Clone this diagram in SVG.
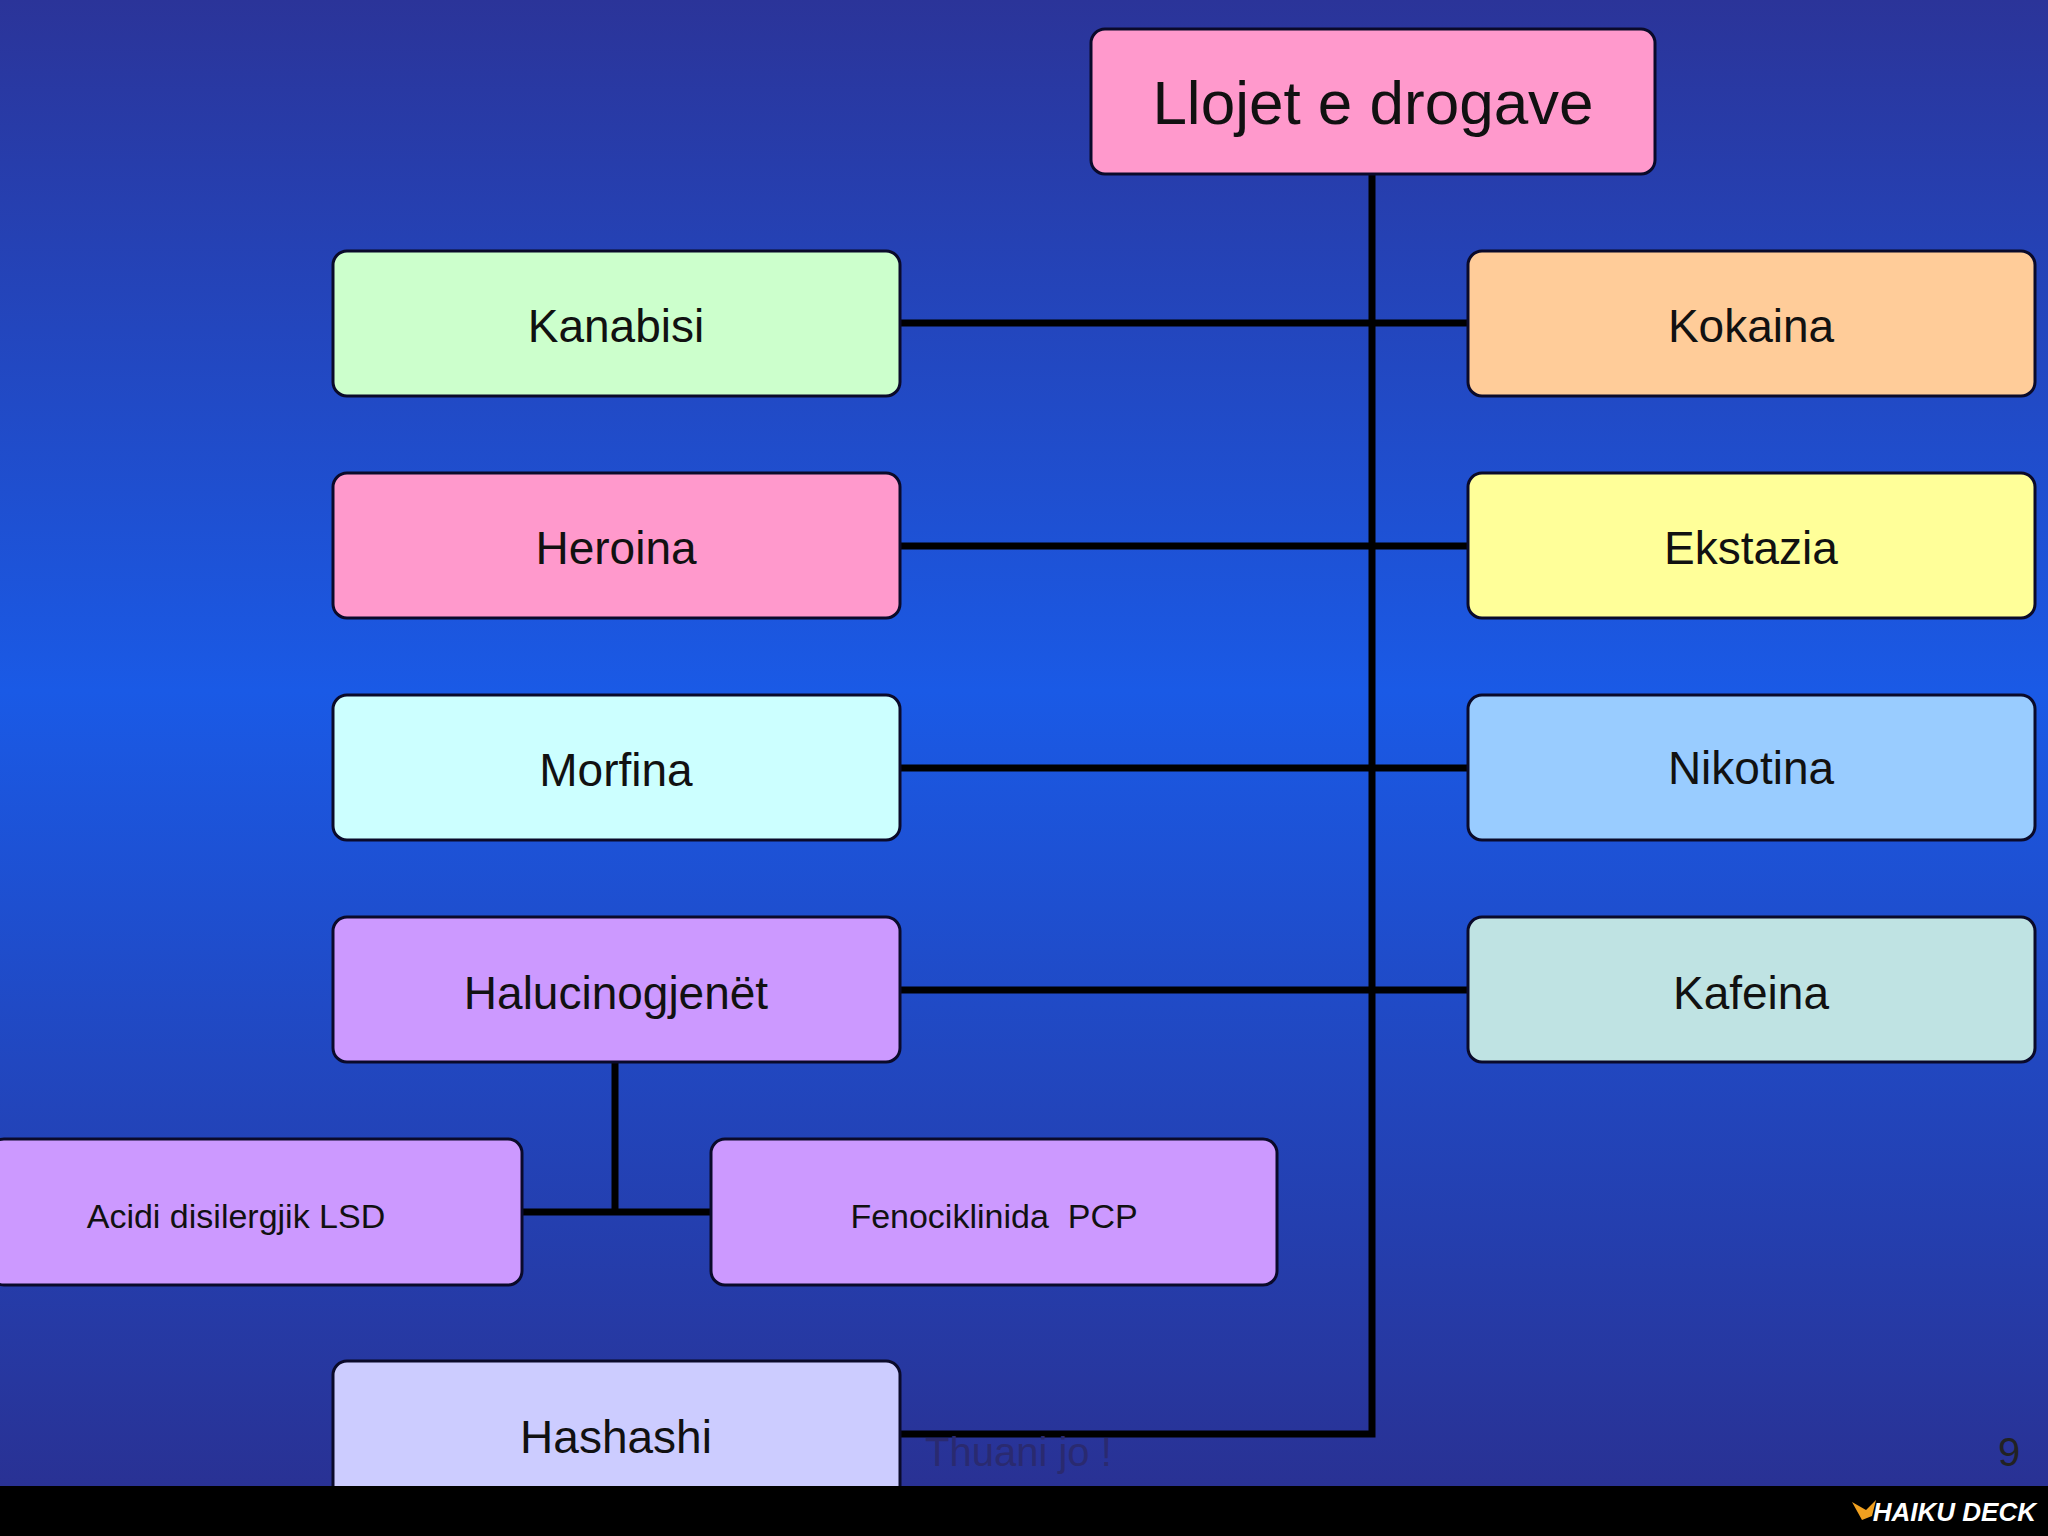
<svg xmlns="http://www.w3.org/2000/svg" width="2048" height="1536" viewBox="0 0 2048 1536">
<defs>
<linearGradient id="bg" x1="0" y1="0" x2="0" y2="1">
<stop offset="0" stop-color="#2b3499"/>
<stop offset="0.45" stop-color="#1a5ae6"/>
<stop offset="1" stop-color="#2a2f8f"/>
</linearGradient>
</defs>
<style>
.b{stroke:#0a0a2a;stroke-width:3}
.t{font-family:"Liberation Sans",Arial,sans-serif;font-size:46px;fill:#111;text-anchor:middle;dominant-baseline:central}
.s{font-size:34px}
.c{stroke:#000;stroke-width:7;fill:none}
</style>
<rect width="2048" height="1536" fill="url(#bg)"/>
<g id="connectors">
<path class="c" d="M1372 174V1434H900M900 323H1468M900 546H1468M900 768H1468M900 990H1468M615 1062V1212M522 1212H711"/>
</g>
<g id="title"><rect class="b" x="1091" y="29" width="564" height="145" rx="14" fill="#ff99cc"/><text class="t" x="1373" y="102" style="font-size:62px">Llojet e drogave</text></g>
<g id="kanabisi"><rect class="b" x="333" y="251" width="567" height="145" rx="14" fill="#ccffcc"/><text class="t" x="616" y="326">Kanabisi</text></g>
<g id="heroina"><rect class="b" x="333" y="473" width="567" height="145" rx="14" fill="#ff99cc"/><text class="t" x="616" y="548">Heroina</text></g>
<g id="morfina"><rect class="b" x="333" y="695" width="567" height="145" rx="14" fill="#ccffff"/><text class="t" x="616" y="770">Morfina</text></g>
<g id="halucinogjenet"><rect class="b" x="333" y="917" width="567" height="145" rx="14" fill="#cc99ff"/><text class="t" x="616" y="993">Halucinogjenët</text></g>
<g id="kokaina"><rect class="b" x="1468" y="251" width="567" height="145" rx="14" fill="#ffcc99"/><text class="t" x="1751" y="326">Kokaina</text></g>
<g id="ekstazia"><rect class="b" x="1468" y="473" width="567" height="145" rx="14" fill="#ffff99"/><text class="t" x="1751" y="548">Ekstazia</text></g>
<g id="nikotina"><rect class="b" x="1468" y="695" width="567" height="145" rx="14" fill="#99ccff"/><text class="t" x="1751" y="768">Nikotina</text></g>
<g id="kafeina"><rect class="b" x="1468" y="917" width="567" height="145" rx="14" fill="#bfe3e3"/><text class="t" x="1751" y="993">Kafeina</text></g>
<g id="lsd"><rect class="b" x="-10" y="1139" width="532" height="146" rx="14" fill="#cc99ff"/><text class="t s" x="236" y="1216">Acidi disilergjik LSD</text></g>
<g id="pcp"><rect class="b" x="711" y="1139" width="566" height="146" rx="14" fill="#cc99ff"/><text class="t s" x="994" y="1216" xml:space="preserve">Fenociklinida  PCP</text></g>
<g id="hashashi"><rect class="b" x="333" y="1361" width="567" height="160" rx="14" fill="#ccccff"/><text class="t" x="616" y="1437">Hashashi</text></g>
<text x="925" y="1466" font-family="Liberation Sans,Arial,sans-serif" font-size="40" fill="#2a2a70">Thuani jo !</text>
<text x="1998" y="1466" font-family="Liberation Sans,Arial,sans-serif" font-size="40" fill="#222">9</text>
<rect x="0" y="1486" width="2048" height="50" fill="#000"/>
<text x="2036" y="1521" font-family="Liberation Sans,Arial,sans-serif" font-size="26" font-weight="bold" font-style="italic" fill="#fff" text-anchor="end">HAIKU DECK</text>
<path d="M1852 1502l14 8 10-10-4 16-10 4z" fill="#f0a020"/>
</svg>
